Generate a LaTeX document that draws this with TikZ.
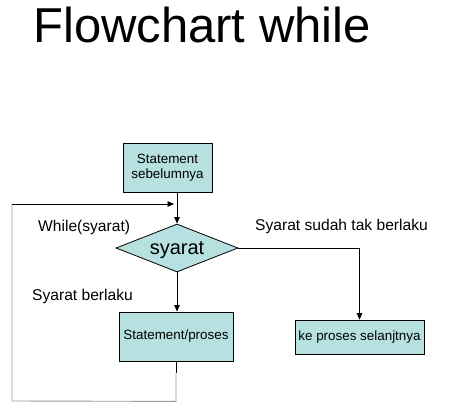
\documentclass[tikz,border=0pt]{standalone}
\usepackage{fontspec}
\setmainfont{Liberation Sans}
\usepackage{tikz}
\usetikzlibrary{arrows.meta,positioning,calc,shapes.geometric}
\definecolor{boxfill}{HTML}{B7E0E0}
\definecolor{loopgray}{HTML}{9A9A9A}
\tikzset{
  >={Triangle[length=6.5pt,width=5.5pt]},
  procbox/.style={draw=black,fill=boxfill,line width=.8pt,inner sep=1pt,align=center,font=\fontsize{13.4}{15}\selectfont},
  decision/.style={diamond,draw=black,fill=boxfill,line width=.8pt,inner sep=0pt,aspect=2.5,text depth=0pt,font=\fontsize{20}{22}\selectfont},
  flow/.style={->,line width=.9pt,color=black},
  loopline/.style={line width=.9pt,color=loopgray},
  lbl/.style={anchor=west,inner sep=0pt,font=\fontsize{15.6}{17}\selectfont},
}

\begin{document}
\begin{tikzpicture}[x=1pt,y=-1pt]
  \useasboundingbox (0,0) rectangle (450,418);
  \node[anchor=base west,inner sep=0pt,font=\fontsize{49}{55}\selectfont] (title) at (33,42) {Flowchart while};
  % boxes
  \node[procbox,minimum width=89pt,minimum height=49pt] (prev) at (167.5,167.5) {Statement\\sebelumnya};
  \node[decision,minimum width=122pt,minimum height=48pt] (cond) at (177,248) {syarat};
  \node[procbox,minimum width=114pt,minimum height=49pt] (proc) at (176,336.5) {Statement/proses};
  \node[procbox,minimum width=129pt,minimum height=34pt] (next) at (359.5,337) {ke proses selanjtnya};
  % labels
  \node[lbl] (whilelbl) at (38,227) {While(syarat)};
  \node[lbl] (falselbl) at (255,226) {Syarat sudah tak berlaku};
  \node[lbl] (truelbl) at (32,296) {Syarat berlaku};
  % connectors
  \draw[flow] (prev.south -| cond.north) -- (cond.north);
  \draw[flow] (cond.south) -- (cond.south |- proc.north);
  \draw[flow] (cond.east) -| (next.north);
  \coordinate (loopbot) at ($(proc.south)+(0,40)$);
  \coordinate (loopleft) at (12,401);
  \coordinate (looptop) at (12,204);
  \coordinate (loopend) at (174,204);
  \draw[line width=.9pt] (proc.south) -- ++(0,12);
  \draw[loopline] ($(proc.south)+(0,12)$) -- (loopbot) -- (loopleft) -- (looptop);
  \draw[flow] (looptop) -- (loopend);
\end{tikzpicture}
\end{document}
